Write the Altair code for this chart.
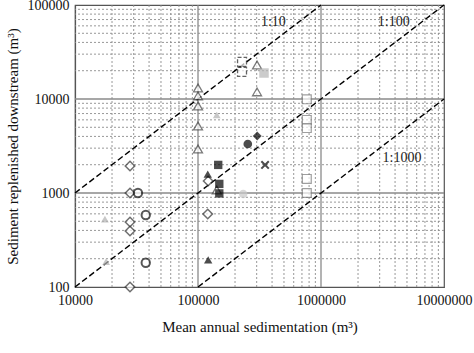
import altair as alt
import pandas as pd

# ---------------- data ----------------
open_diamond_x = [28000, 28000, 28000, 28000, 28000, 121000, 120000]
open_diamond_y = [1940, 1000, 491, 394, 100, 1340, 598]

open_circle_x = [32500, 37600, 37600]
open_circle_y = [1000, 583, 181]

gray_triangle_x = [17500, 17900, 142000]
gray_triangle_y = [528, 186, 6760]

open_triangle_x = [100000, 100000, 100000, 100000, 100000, 302000, 302000, 142000]
open_triangle_y = [13100, 10800, 8430, 5160, 2940, 23000, 11900, 1077]

dash_square_x = [228000, 228000]
dash_square_y = [24800, 19400]

gray_square_x = [344000]
gray_square_y = [18900]

open_gray_square_x = [766000, 766000, 766000, 766000, 766000]
open_gray_square_y = [9930, 5980, 4910, 1410, 1000]

black_circle_x = [254000]
black_circle_y = [3320]

black_diamond_x = [303000]
black_diamond_y = [4040]

cross_x = [351000]
cross_y = [1990]

black_square_x = [146000, 149000, 149000]
black_square_y = [1990, 1250, 990]

black_triangle_x = [120000, 121000]
black_triangle_y = [1590, 194]

gray_circle_x = [233000]
gray_circle_y = [975]

ratio_names = ["1:10", "1:10", "1:100", "1:100", "1:1000", "1:1000"]
ratio_x = [1e4, 1e6, 1e4, 1e7, 1e5, 1e7]
ratio_y = [1e3, 1e5, 1e2, 1e5, 1e2, 1e4]

label_text = ["1:10", "1:100", "1:1000"]
label_x = [410000, 3900000, 4560000]
label_y = [65900, 65900, 2350]

major_x = [1e5, 1e6]
major_y = [1e3, 1e4]
minor_x = [m * 10 ** e for e in (4, 5, 6) for m in range(2, 10)]
minor_y = [m * 10 ** e for e in (2, 3, 4) for m in range(2, 10)]

x_ticks = [10000, 100000, 1000000, 10000000]
y_ticks = [100, 1000, 10000, 100000]

SERIF = "Liberation Serif"

xs = alt.Scale(type="log", domain=[1e4, 1e7], nice=False)
ys = alt.Scale(type="log", domain=[1e2, 1e5], nice=False)

X = lambda: alt.X("x:Q", scale=xs, axis=alt.Axis(
    values=x_ticks, format="d", title="Mean annual sedimentation (m³)",
    grid=False, ticks=False, labelPadding=6, titlePadding=12, labelFlush=False))
Y = lambda: alt.Y("y:Q", scale=ys, axis=alt.Axis(
    values=y_ticks, format="d", title="Sediment replenished downstream (m³)",
    grid=False, ticks=False, labelPadding=6, titlePadding=7, labelFlush=False))

# grid
minor_v = alt.Chart(pd.DataFrame({"x": minor_x})).mark_rule(
    color="#8c8c8c", strokeDash=[2, 2], strokeWidth=0.9).encode(x=X())
minor_h = alt.Chart(pd.DataFrame({"y": minor_y})).mark_rule(
    color="#8c8c8c", strokeDash=[2, 2], strokeWidth=0.9).encode(y=Y())
major_v = alt.Chart(pd.DataFrame({"x": major_x})).mark_rule(
    color="#8a8a8a", strokeWidth=1.3).encode(x=X())
major_h = alt.Chart(pd.DataFrame({"y": major_y})).mark_rule(
    color="#8a8a8a", strokeWidth=1.3).encode(y=Y())

lines = alt.Chart(pd.DataFrame({"x": ratio_x, "y": ratio_y, "r": ratio_names})).mark_line(
    color="black", strokeDash=[6, 3], strokeWidth=1.4).encode(x=X(), y=Y(), detail="r:N")

labels = alt.Chart(pd.DataFrame({"x": label_x, "y": label_y, "t": label_text})).mark_text(
    font=SERIF, fontSize=14, color="#222").encode(x=X(), y=Y(), text="t:N")


def pts(xv, yv, **kw):
    return alt.Chart(pd.DataFrame({"x": xv, "y": yv})).mark_point(**kw).encode(x=X(), y=Y())


layers = [
    minor_v, minor_h, major_v, major_h, lines,
    pts(open_diamond_x, open_diamond_y, shape="diamond", filled=True, fill="white",
        stroke="#333", strokeWidth=1.5, size=90),
    pts(open_circle_x, open_circle_y, shape="circle", filled=True, fill="white",
        stroke="#111", strokeWidth=2, size=70),
    pts(gray_triangle_x, gray_triangle_y, shape="triangle-up", filled=True,
        fill="#b0b0b0", size=60),
    pts(open_triangle_x, open_triangle_y, shape="triangle-up", filled=True, fill="white",
        stroke="#444", strokeWidth=1.3, size=80),
    pts(dash_square_x, dash_square_y, shape="square", filled=True, fill="white",
        stroke="#222", strokeWidth=1.3, strokeDash=[4, 2], size=80),
    pts(gray_square_x, gray_square_y, shape="square", filled=True, fill="#b5b5b5", size=90),
    pts(open_gray_square_x, open_gray_square_y, shape="square", filled=True, fill="white",
        stroke="#777", strokeWidth=1.2, size=80),
    pts(black_circle_x, black_circle_y, shape="circle", filled=True, fill="black", size=75),
    pts(black_diamond_x, black_diamond_y, shape="diamond", filled=True, fill="black", size=80),
    pts(cross_x, cross_y, shape="M-1,-1L1,1M-1,1L1,-1", filled=False, stroke="black",
        strokeWidth=2, size=55),
    pts(black_square_x, black_square_y, shape="square", filled=True, fill="black", size=70),
    pts(black_triangle_x, black_triangle_y, shape="triangle-up", filled=True, fill="black", size=70),
    pts(gray_circle_x, gray_circle_y, shape="circle", filled=True, fill="#c8c8c8", size=70),
    labels,
]

chart = alt.layer(*layers).properties(
    width=369, height=282,
    autosize=alt.AutoSizeParams(type="none"),
    padding={"left": 75, "top": 5, "right": 30, "bottom": 66},
    background="white",
).configure_view(stroke="#555", strokeWidth=1.2).configure_axis(
    labelFont=SERIF, labelFontSize=14, labelColor="#111",
    titleFont=SERIF, titleFontSize=15, titleFontWeight="normal", titleColor="#111",
    domainColor="#555", domainWidth=1.2, labelOverlap=False,
)

chart.save("out.html", embed_options={"renderer": "svg", "actions": False})
